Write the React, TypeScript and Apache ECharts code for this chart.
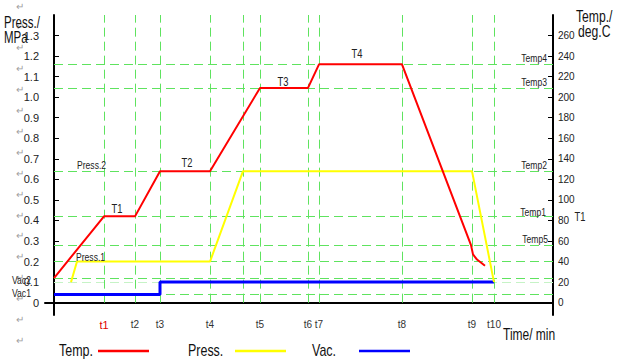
import React, { useEffect, useRef } from "react";
import * as echarts from "echarts";

const FONT = "'Liberation Sans', Arial, sans-serif";

// time marks (minutes from start)
const tNames = ["t1", "t2", "t3", "t4", "t5", "t6", "t7", "t8", "t9", "t10"];
const tValues = [50, 81, 106, 156, 206, 254, 265, 348, 418, 440];
const extraVerticals = [189];

// horizontal reference levels (MPa scale)
const hLevels = [1.16, 1.045, 0.64, 0.42, 0.28, 0.2, 0.12, 0.04];
const paleLevels = [0.1];

// Temperature (deg C, right axis)
const tempTime = [0, 50, 81, 106, 156, 206, 254, 265, 348, 417, 419, 423, 431];
const tempValues = [24, 84, 84, 128, 128, 209, 209, 232, 232, 56, 47, 42, 36];

// Pressure (MPa, left axis)
const pressTime = [17, 23, 156, 189, 418, 440];
const pressValues = [0.1, 0.2, 0.2, 0.64, 0.64, 0.1];

// Vacuum (left axis)
const vacTime = [0, 106, 106, 440];
const vacValues = [0.04, 0.04, 0.1, 0.1];

const leftTicks = [0, 0.1, 0.2, 0.3, 0.4, 0.5, 0.6, 0.7, 0.8, 0.9, 1.0, 1.1, 1.2, 1.3];
const rightTicks = [0, 20, 40, 60, 80, 100, 120, 140, 160, 180, 200, 220, 240, 260];

const X_MIN = -9;
const X_MAX = 499;
const Y_MIN = -0.06;
const Y_MAX = 1.4;

const GREEN = "#5fe35f";
const PALE = "#c6f3c6";

function zip(a: number[], b: number[]) {
  return a.map((v, i) => [v, b[i]]);
}

function txt(x: number, y: number, text: string, opts: any = {}) {
  return {
    type: "text",
    x,
    y,
    scaleX: opts.scaleX || 0.78,
    silent: true,
    z: 10,
    style: {
      text,
      fontFamily: FONT,
      fontSize: opts.fontSize || 11,
      fill: opts.fill || "#222",
      align: opts.align || "left",
      verticalAlign: "middle",
    },
  };
}

export default function App() {
  const ref = useRef<HTMLDivElement>(null);
  useEffect(() => {
    if (!ref.current) return;
    const chart = echarts.init(ref.current, null, { renderer: "svg" });

    const refLines: any[] = [];
    hLevels.forEach((v) =>
      refLines.push([
        { coord: [0, v], lineStyle: { color: GREEN } },
        { coord: [X_MAX, v] },
      ])
    );
    paleLevels.forEach((v) =>
      refLines.push([
        { coord: [0, v], lineStyle: { color: PALE } },
        { coord: [X_MAX, v] },
      ])
    );
    [...tValues, ...extraVerticals].forEach((t) =>
      refLines.push([
        { coord: [t, 0], lineStyle: { color: GREEN } },
        { coord: [t, Y_MAX] },
      ])
    );

    const returns: any[] = [];
    for (let k = 0; k < 17; k++) {
      returns.push(txt(20, 6 + 20.9 * k, "\u21B5", { fill: "#a0a0a0", fontSize: 10, align: "center", scaleX: 1 }));
    }

    const graphics: any[] = [
      ...returns,
      txt(4, 22, "Press./", { fontSize: 16, fill: "#111", scaleX: 0.72 }),
      txt(4, 37, "MPa", { fontSize: 16, fill: "#111", scaleX: 0.72 }),
      txt(576, 16, "Temp./", { fontSize: 16, fill: "#111", scaleX: 0.76 }),
      txt(578, 31, "deg.C", { fontSize: 16, fill: "#111", scaleX: 0.76 }),
      txt(547, 58, "Temp4", { align: "right" }),
      txt(547, 82, "Temp3", { align: "right" }),
      txt(547, 165, "Temp2", { align: "right" }),
      txt(546, 212, "Temp1", { align: "right" }),
      txt(548, 239, "Temp5", { align: "right" }),
      txt(580, 217, "T1", { align: "center", fontSize: 12 }),
      txt(77, 165, "Press.2"),
      txt(76, 257, "Press.1"),
      txt(12, 280, "Vac2"),
      txt(12, 293, "Vac1"),
      txt(117, 209, "T1", { align: "center", fontSize: 12 }),
      txt(187, 163, "T2", { align: "center", fontSize: 12 }),
      txt(283, 82, "T3", { align: "center", fontSize: 12 }),
      txt(357, 54, "T4", { align: "center", fontSize: 12 }),
      txt(503, 334, "Time/ min", { fontSize: 16, fill: "#111", scaleX: 0.75 }),
      txt(59, 350, "Temp.", { fontSize: 16, fill: "#111" }),
      { type: "line", silent: true, shape: { x1: 98, y1: 351, x2: 149, y2: 351 }, style: { stroke: "#ff0000", lineWidth: 2.5 } },
      txt(188, 350, "Press.", { fontSize: 16, fill: "#111" }),
      { type: "line", silent: true, shape: { x1: 235, y1: 351, x2: 286, y2: 351 }, style: { stroke: "#ffff00", lineWidth: 2.5 } },
      txt(312, 350, "Vac.", { fontSize: 16, fill: "#111" }),
      { type: "line", silent: true, shape: { x1: 359, y1: 351, x2: 410, y2: 351 }, style: { stroke: "#0000ff", lineWidth: 2.5 } },
    ];

    chart.setOption({
      animation: false,
      backgroundColor: "#ffffff",
      grid: { left: 45, right: 64, top: 15, bottom: 45 },
      graphic: graphics,
      xAxis: {
        type: "value",
        min: X_MIN,
        max: X_MAX,
        splitLine: { show: false },
        axisLine: { show: true, onZero: true, lineStyle: { color: "#000", width: 2 } },
        axisTick: { show: false },
        axisLabel: {
          customValues: tValues,
          margin: 4,
          formatter: (v: number) => {
            const i = tValues.indexOf(v);
            if (i < 0) return "";
            return i === 0 ? "{r|" + tNames[i] + "}" : "{g|" + tNames[i] + "}";
          },
          rich: {
            r: { color: "#e00000", fontFamily: FONT, fontSize: 11 },
            g: { color: "#333", fontFamily: FONT, fontSize: 10 },
          },
        },
      },
      yAxis: [
        {
          type: "value",
          min: Y_MIN,
          max: Y_MAX,
          splitLine: { show: false },
          axisLine: { show: true, onZero: true, lineStyle: { color: "#000", width: 2 } },
          axisTick: { show: true, inside: true, length: 5, customValues: leftTicks, lineStyle: { color: "#000" } },
          axisLabel: {
            customValues: leftTicks,
            margin: 6,
            padding: [0, 0, 7, 0],
            color: "#222",
            fontFamily: FONT,
            fontSize: 11,
            formatter: (v: number) => (v === 0 ? "0" : v.toFixed(1)),
          },
        },
        {
          type: "value",
          position: "right",
          min: Y_MIN * 200,
          max: Y_MAX * 200,
          splitLine: { show: false },
          axisLine: { show: true, onZero: false, lineStyle: { color: "#000", width: 2 } },
          axisTick: { show: true, inside: true, length: 5, customValues: rightTicks, lineStyle: { color: "#000" } },
          axisLabel: {
            customValues: rightTicks,
            margin: 5,
            padding: [0, 0, 6, 0],
            color: "#222",
            fontFamily: FONT,
            fontSize: 10,
            formatter: (v: number) => String(v),
          },
        },
      ],
      series: [
        {
          name: "ref",
          type: "line",
          data: [],
          z: 1,
          silent: true,
          markLine: {
            silent: true,
            z: 1,
            symbol: ["none", "none"],
            label: { show: false },
            lineStyle: { type: [9, 5], width: 1, color: GREEN },
            data: refLines,
          },
        },
        {
          name: "Vac.",
          type: "line",
          yAxisIndex: 0,
          data: zip(vacTime, vacValues),
          showSymbol: false,
          z: 3,
          lineStyle: { color: "#0000ff", width: 3 },
        },
        {
          name: "Press.",
          type: "line",
          yAxisIndex: 0,
          data: zip(pressTime, pressValues),
          showSymbol: false,
          z: 4,
          lineStyle: { color: "#ffff00", width: 2 },
        },
        {
          name: "Temp.",
          type: "line",
          yAxisIndex: 1,
          data: zip(tempTime, tempValues),
          showSymbol: false,
          z: 5,
          lineStyle: { color: "#ff0000", width: 2 },
        },
      ],
    });
    return () => chart.dispose();
  }, []);
  return (
    <div
      ref={ref}
      style={{ position: "absolute", left: 0, top: 0, width: 617, height: 360, background: "#fff" }}
    />
  );
}
